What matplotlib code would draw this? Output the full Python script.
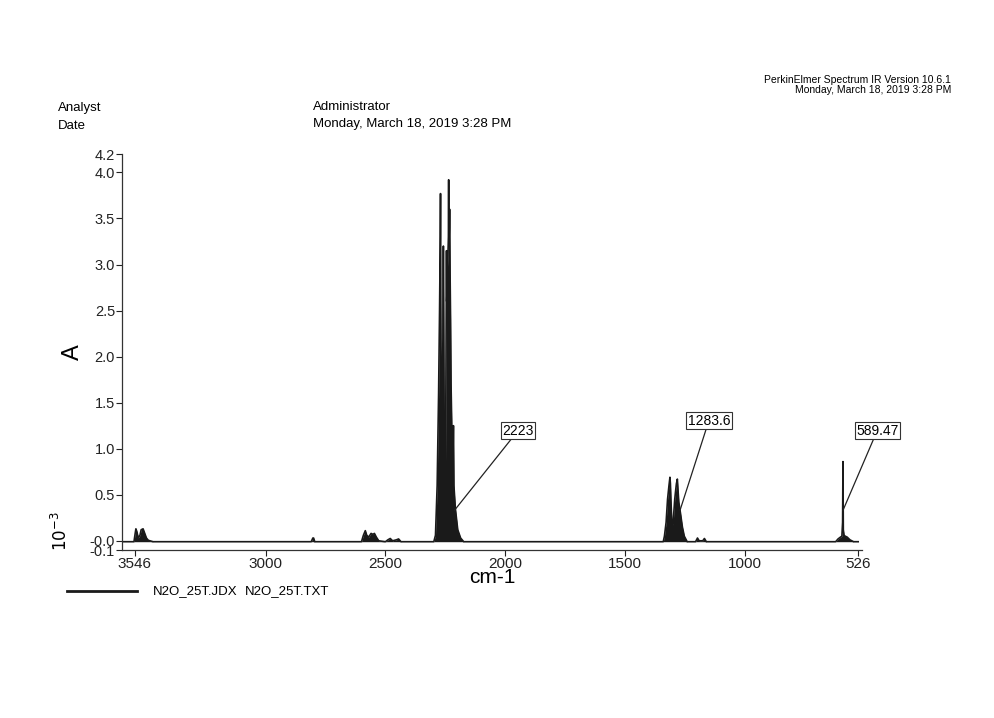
import numpy as np
import matplotlib
matplotlib.use("Agg")
import matplotlib.pyplot as plt

plt.rcParams["font.family"] = ["Liberation Sans", "DejaVu Sans"]

# ── Spectrum outline points (cm-1, absorbance) ──────────────────────────────
BASE_W = [3600, 3560, 3550]
BASE_A = [-0.01, -0.01, -0.01]

OH_W = [3550, 3545, 3542, 3538, 3532, 3525, 3520, 3512, 3505, 3498, 3490, 3470]
OH_A = [-0.01, 0.08, 0.13, 0.10, 0.03, 0.06, 0.12, 0.13, 0.08, 0.03, 0.005, -0.01]

MID_W = [3470, 2810, 2803, 2800, 2795, 2600, 2592, 2584, 2578, 2570, 2560, 2552,
         2546, 2538, 2528, 2500, 2490, 2480, 2470, 2455, 2445, 2435, 2320]
MID_A = [-0.01, -0.01, 0.03, 0.03, -0.01, -0.01, 0.06, 0.11, 0.06, 0.04, 0.08, 0.07,
         0.08, 0.04, 0.0, -0.01, 0.01, 0.025, 0.0, 0.01, 0.02, -0.01, -0.01]

N2O_W = [2320, 2298, 2291, 2284, 2278, 2274, 2271, 2270, 2269, 2267, 2264, 2260,
         2258, 2257, 2255, 2252, 2250, 2248, 2246, 2245, 2244, 2242, 2239, 2237,
         2236, 2235, 2233, 2232, 2230, 2228, 2226, 2222, 2218, 2216, 2214, 2208,
         2198, 2186, 2173]
N2O_A = [-0.01, -0.01, 0.06, 0.6, 1.6, 2.5, 3.3, 3.77, 2.6, 1.5, 1.3, 2.2,
         3.2, 2.7, 1.4, 0.6, 0.45, 1.4, 2.6, 3.15, 2.6, 2.9, 3.1, 3.3,
         3.92, 3.2, 3.4, 3.6, 2.9, 2.4, 1.7, 1.1, 0.9, 1.25, 0.6, 0.35,
         0.12, 0.03, -0.01]

MID2_W = [2173, 1340, 1335, 1328, 1322, 1316, 1312, 1310, 1308, 1304, 1300, 1296,
          1292, 1288, 1285, 1281, 1279, 1275, 1268, 1260, 1252, 1240, 1205, 1197,
          1190, 1175, 1168, 1160, 620]
MID2_A = [-0.01, -0.01, 0.05, 0.2, 0.45, 0.6, 0.69, 0.62, 0.45, 0.2, 0.12, 0.3,
          0.45, 0.55, 0.62, 0.67, 0.58, 0.42, 0.3, 0.15, 0.05, -0.01, -0.01, 0.03,
          0.0, 0.0, 0.025, -0.01, -0.01]

LOW_W = [620, 610, 600, 594, 591, 589.5, 588, 585, 580, 572, 560, 545, 526]
LOW_A = [-0.01, 0.02, 0.04, 0.05, 0.2, 0.86, 0.12, 0.06, 0.05, 0.04, 0.01, -0.01, -0.01]

X_TICKS = [3546, 3000, 2500, 2000, 1500, 1000, 526]
Y_TICKS = [-0.1, 0.0, 0.5, 1.0, 1.5, 2.0, 2.5, 3.0, 3.5, 4.0, 4.2]
Y_LABELS = ["-0.1", "-0.0", "0.5", "1.0", "1.5", "2.0", "2.5", "3.0", "3.5", "4.0", "4.2"]

PEAK_LABELS = ["2223", "1283.6", "589.47"]
PEAK_POINTS = [(2212, 0.33), (1270, 0.33), (589.5, 0.33)]
LABEL_POS = [(2012, 1.12), (1238, 1.23), (535, 1.12)]

w = np.array(BASE_W + OH_W[1:] + MID_W[1:] + N2O_W[1:] + MID2_W[1:] + LOW_W[1:])
a = np.array(BASE_A + OH_A[1:] + MID_A[1:] + N2O_A[1:] + MID2_A[1:] + LOW_A[1:])

W, H = 994, 718
fig = plt.figure(figsize=(W / 100, H / 100), dpi=100)
ax = fig.add_axes([122 / W, (H - 550) / H, 740 / W, 396 / H])

ax.fill_between(w, a, -0.01, color="#1a1a1a", linewidth=0)
ax.plot(w, a, color="#1a1a1a", linewidth=1.2)

ax.set_xlim(3600, 510)
ax.set_ylim(-0.1, 4.2)
for s in ("top", "right"):
    ax.spines[s].set_visible(False)
for s in ("left", "bottom"):
    ax.spines[s].set_color("#333")
    ax.spines[s].set_linewidth(0.9)
ax.set_xticks(X_TICKS)
ax.set_xticklabels([str(t) for t in X_TICKS], fontsize=11)
ax.set_yticks(Y_TICKS)
ax.set_yticklabels(Y_LABELS, fontsize=10.5)
ax.tick_params(direction="out", length=4, width=0.8, pad=1, colors="#222")
ax.set_xlabel("cm-1", fontsize=15, labelpad=-2)
ax.set_ylabel("A", fontsize=17, rotation=90, labelpad=4)

for txt, pt, pos in zip(PEAK_LABELS, PEAK_POINTS, LABEL_POS):
    ax.annotate(txt, xy=pt, xytext=pos, fontsize=10, ha="left", va="bottom",
                bbox=dict(boxstyle="square,pad=0.1", fc="white", ec="#333", lw=0.8),
                arrowprops=dict(arrowstyle="-", color="#222", lw=0.9,
                                shrinkA=0, shrinkB=0))

fig.text(60 / W, 1 - 531 / H, r"$10^{-3}$", rotation=90, fontsize=12,
         ha="center", va="center")

fig.text(58 / W, 1 - 108 / H, "Analyst", fontsize=9.5, va="center")
fig.text(58 / W, 1 - 126 / H, "Date", fontsize=9.5, va="center")
fig.text(313 / W, 1 - 107 / H, "Administrator", fontsize=9.5, va="center")
fig.text(313 / W, 1 - 124 / H, "Monday, March 18, 2019 3:28 PM", fontsize=9.5, va="center")
fig.text(951 / W, 1 - 80 / H, "PerkinElmer Spectrum IR Version 10.6.1", fontsize=7.5,
         ha="right", va="center")
fig.text(951 / W, 1 - 90 / H, "Monday, March 18, 2019 3:28 PM", fontsize=7.5,
         ha="right", va="center")

fig.lines.append(plt.Line2D([67 / W, 137 / W], [1 - 591 / H] * 2, color="#1a1a1a",
                            lw=2, transform=fig.transFigure))
fig.text(153 / W, 1 - 591 / H, "N2O_25T.JDX", fontsize=9.5, va="center")
fig.text(245 / W, 1 - 591 / H, "N2O_25T.TXT", fontsize=9.5, va="center")

fig.savefig("out.png", dpi=100, facecolor="white")
